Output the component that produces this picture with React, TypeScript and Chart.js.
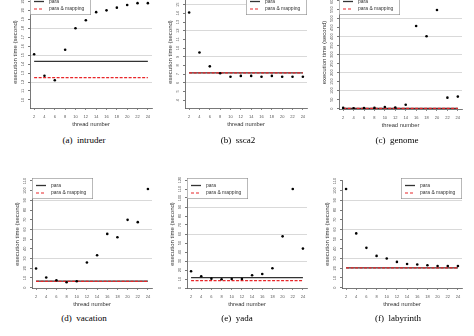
import React, { useEffect, useRef } from "react";
import { Chart, registerables } from "chart.js";

Chart.register(...registerables);

const FONT = "'Liberation Sans', Arial, sans-serif";

// ---- data ----
const threads = [2, 4, 6, 8, 10, 12, 14, 16, 18, 20, 22, 24];
const xTicks = [2, 4, 6, 8, 10, 12, 14, 16, 18, 20, 22, 24];
const legendLabels = ["para", "para & mapping"];

const intruderTimes = [15.1, 12.7, 12.2, 15.6, 18.0, 18.9, 19.8, 20.0, 20.3, 20.6, 20.8, 20.8];
const intruderPara = 14.3;
const intruderMapping = 12.5;
const intruderYTicks = [10, 11, 12, 13, 14, 15, 16, 17, 18, 19, 20, 21];
const intruderGrid = [12, 15, 18];

const ssca2Times = [14.1, 9.5, 7.9, 7.1, 6.7, 6.8, 6.8, 6.7, 6.8, 6.7, 6.7, 6.7];
const ssca2Para = 7.15;
const ssca2Mapping = 7.15;
const ssca2YTicks = [4, 5, 6, 7, 8, 9, 10, 11, 12, 13, 14, 15];
const ssca2Grid = [6, 9, 12, 15];

const genomeTimes = [4, 2, 3, 4, 9, 6, 22, 459, 402, 548, 61, 67];
const genomePara = 2;
const genomeMapping = 1;
const genomeYTicks = [0, 50, 100, 150, 200, 250, 300, 350, 400, 450, 500, 550, 600];
const genomeGrid = [100, 200, 300, 400, 500];

const vacationTimes = [19.7, 10.4, 7.6, 5.5, 6.5, 25.9, 33.4, 55.4, 52.0, 69.9, 67.5, 101.7];
const vacationPara = 6.6;
const vacationMapping = 6.4;
const vacationYTicks = [0, 10, 20, 30, 40, 50, 60, 70, 80, 90, 100, 110];
const vacationGrid = [30, 60, 90];

const yadaTimes = [18.6, 13, 10.4, 9.7, 10, 10, 14.1, 15.6, 21.9, 57.4, 110, 43.8];
const yadaPara = 11.6;
const yadaMapping = 8.2;
const yadaYTicks = [0, 10, 20, 30, 40, 50, 60, 70, 80, 90, 100, 110, 120];
const yadaGrid = [30, 60, 90];

const labyrinthTimes = [101.7, 55.9, 41.0, 32.7, 30, 26.5, 24.4, 23.8, 23.1, 22.3, 22.3, 22.3];
const labyrinthPara = 20.3;
const labyrinthMapping = 20.3;
const labyrinthYTicks = [0, 10, 20, 30, 40, 50, 60, 70, 80, 90, 100, 110];
const labyrinthGrid = [30, 60, 90];

type Panel = {
  caption: string;
  times: number[];
  para: number;
  mapping: number;
  yMin: number;
  yMax: number;
  yTicks: number[];
  grid: number[];
  legendSide: "left" | "right";
  area: { left: number; right: number; top: number; bottom: number };
  cap: { x: number; y: number };
};

const panels: Panel[] = [
  { caption: "(a)  intruder", times: intruderTimes, para: intruderPara, mapping: intruderMapping, yMin: 9.1, yMax: 21.6, yTicks: intruderYTicks, grid: intruderGrid, legendSide: "left", area: { left: 30, right: 152, top: -4, bottom: 108 }, cap: { x: 84, y: 140 } },
  { caption: "(b)  ssca2", times: ssca2Times, para: ssca2Para, mapping: ssca2Mapping, yMin: 3.1, yMax: 16.0, yTicks: ssca2YTicks, grid: ssca2Grid, legendSide: "right", area: { left: 185, right: 307, top: -4, bottom: 108 }, cap: { x: 238, y: 140 } },
  { caption: "(c)  genome", times: genomeTimes, para: genomePara, mapping: genomeMapping, yMin: -2, yMax: 626, yTicks: genomeYTicks, grid: genomeGrid, legendSide: "left", area: { left: 339, right: 462, top: -4, bottom: 109 }, cap: { x: 397, y: 140 } },
  { caption: "(d)  vacation", times: vacationTimes, para: vacationPara, mapping: vacationMapping, yMin: -0.4, yMax: 111, yTicks: vacationYTicks, grid: vacationGrid, legendSide: "left", area: { left: 32, right: 152, top: 180, bottom: 288 }, cap: { x: 84, y: 318 } },
  { caption: "(e)  yada", times: yadaTimes, para: yadaPara, mapping: yadaMapping, yMin: 0, yMax: 120, yTicks: yadaYTicks, grid: yadaGrid, legendSide: "left", area: { left: 187, right: 307, top: 180, bottom: 288 }, cap: { x: 237, y: 318 } },
  { caption: "(f)  labyrinth", times: labyrinthTimes, para: labyrinthPara, mapping: labyrinthMapping, yMin: -0.4, yMax: 111, yTicks: labyrinthYTicks, grid: labyrinthGrid, legendSide: "right", area: { left: 342, right: 462, top: 180, bottom: 288 }, cap: { x: 398, y: 318 } },
];

const PAD_L = 32;
const PAD_T = 6;
const PAD_R = 6;
const PAD_B = 24;
const AXIS = "#555";
const PARA_COLOR = "#333333";
const MAP_COLOR = "#e8262a";

function PanelChart({ p }: { p: Panel }) {
  const ref = useRef<HTMLCanvasElement | null>(null);
  const w = p.area.right - p.area.left + PAD_L + PAD_R;
  const h = p.area.bottom - p.area.top + PAD_T + PAD_B;

  useEffect(() => {
    if (!ref.current) return;
    const yLabelPlugin = {
      id: "yLabels",
      afterDraw(chart: any) {
        const ctx = chart.ctx;
        const ys = chart.scales.y;
        const left = chart.chartArea.left;
        ctx.save();
        ctx.fillStyle = AXIS;
        ctx.font = `4px ${FONT}`;
        ctx.textAlign = "center";
        ctx.textBaseline = "middle";
        for (const v of p.yTicks) {
          const py = ys.getPixelForValue(v);
          ctx.save();
          ctx.translate(left - 7, py);
          ctx.rotate(-Math.PI / 2);
          ctx.fillText(String(v), 0, 0);
          ctx.restore();
        }
        ctx.restore();
      },
    };
    const legendPlugin = {
      id: "boxLegend",
      afterDatasetsDraw(chart: any) {
        const ctx = chart.ctx;
        const { left, right, top } = chart.chartArea;
        const bw = 61;
        const bh = 21;
        const bx = p.legendSide === "left" ? left : right - bw;
        const by = top - 2;
        ctx.save();
        ctx.fillStyle = "#ffffff";
        ctx.fillRect(bx, by, bw, bh);
        ctx.strokeStyle = "#8a8a8a";
        ctx.lineWidth = 0.6;
        ctx.strokeRect(bx + 0.3, by + 0.3, bw - 0.6, bh - 0.6);
        const styles = [
          { color: PARA_COLOR, dash: [] as number[], width: 1.3 },
          { color: MAP_COLOR, dash: [3, 2], width: 1.1 },
        ];
        legendLabels.forEach((lab, i) => {
          const ly = by + 7.5 + i * 7.5;
          ctx.beginPath();
          ctx.setLineDash(styles[i].dash);
          ctx.strokeStyle = styles[i].color;
          ctx.lineWidth = styles[i].width;
          ctx.moveTo(bx + 4, ly);
          ctx.lineTo(bx + 14, ly);
          ctx.stroke();
          ctx.setLineDash([]);
          ctx.fillStyle = "#333";
          ctx.font = `5px ${FONT}`;
          ctx.textAlign = "left";
          ctx.textBaseline = "middle";
          ctx.fillText(lab, bx + 19, ly);
        });
        ctx.restore();
      },
    };

    const chart = new Chart(ref.current, {
      type: "scatter",
      data: {
        datasets: [
          {
            label: "time",
            data: threads.map((t, i) => ({ x: t, y: p.times[i] })),
            showLine: false,
            pointRadius: 1.3,
            pointBackgroundColor: "#000",
            pointBorderColor: "#000",
            pointBorderWidth: 0,
          },
          {
            label: legendLabels[1],
            data: [
              { x: threads[0], y: p.mapping },
              { x: threads[threads.length - 1], y: p.mapping },
            ],
            showLine: true,
            borderColor: MAP_COLOR,
            borderWidth: 1.2,
            borderDash: [3, 1.5],
            pointRadius: 0,
          },
          {
            label: legendLabels[0],
            data: [
              { x: threads[0], y: p.para },
              { x: threads[threads.length - 1], y: p.para },
            ],
            showLine: true,
            borderColor: PARA_COLOR,
            borderWidth: 1.3,
            pointRadius: 0,
          },
        ],
      },
      options: {
        animation: false,
        responsive: false,
        maintainAspectRatio: false,
        events: [],
        layout: { padding: { top: PAD_T, right: PAD_R, left: 0, bottom: 0 } },
        plugins: { legend: { display: false }, tooltip: { enabled: false }, title: { display: false } },
        scales: {
          x: {
            type: "linear",
            min: 1.2,
            max: 24.8,
            afterBuildTicks: (s: any) => {
              s.ticks = xTicks.map((v) => ({ value: v }));
            },
            afterFit: (s: any) => {
              s.height = PAD_B;
            },
            grid: { drawOnChartArea: false, drawTicks: true, tickLength: 2, tickColor: AXIS, lineWidth: 0.7 },
            border: { color: AXIS, width: 0.8 },
            ticks: { font: { family: FONT, size: 4 }, color: AXIS, padding: 4, maxRotation: 0, minRotation: 0, autoSkip: false },
            title: { display: true, text: "thread number", font: { family: FONT, size: 5.8 }, color: "#333", padding: { top: 0, bottom: 4.3 } },
          },
          y: {
            type: "linear",
            min: p.yMin,
            max: p.yMax,
            afterBuildTicks: (s: any) => {
              s.ticks = p.yTicks.map((v) => ({ value: v }));
            },
            afterFit: (s: any) => {
              s.width = PAD_L;
            },
            grid: {
              color: (c: any) => (c.tick && p.grid.includes(c.tick.value) ? "#cfcfcf" : "rgba(0,0,0,0)"),
              lineWidth: 0.8,
              drawTicks: true,
              tickLength: 2,
              tickColor: AXIS,
            },
            border: { color: AXIS, width: 0.8 },
            ticks: { display: false },
            title: { display: true, text: "execution time (second)", font: { family: FONT, size: 6 }, color: "#333", padding: { top: 14, bottom: 0 } },
          },
        },
      },
      plugins: [legendPlugin, yLabelPlugin],
    } as any);
    return () => chart.destroy();
  }, []);

  return (
    <canvas
      ref={ref}
      width={w}
      height={h}
      style={{ position: "absolute", left: p.area.left - PAD_L, top: p.area.top - PAD_T, width: w, height: h }}
    />
  );
}

export default function App() {
  return (
    <div style={{ position: "fixed", left: 0, top: 0, width: 474, height: 336, overflow: "hidden", background: "#fff" }}>
      {panels.map((p, i) => (
        <PanelChart key={i} p={p} />
      ))}
      {panels.map((p, i) => (
        <div
          key={"c" + i}
          style={{
            position: "absolute",
            left: p.cap.x,
            top: p.cap.y,
            transform: "translate(-50%, -50%)",
            fontFamily: "'Liberation Serif', 'Times New Roman', serif",
            fontSize: 9,
            lineHeight: 1,
            whiteSpace: "pre",
            color: "#000",
          }}
        >
          {p.caption}
        </div>
      ))}
    </div>
  );
}
